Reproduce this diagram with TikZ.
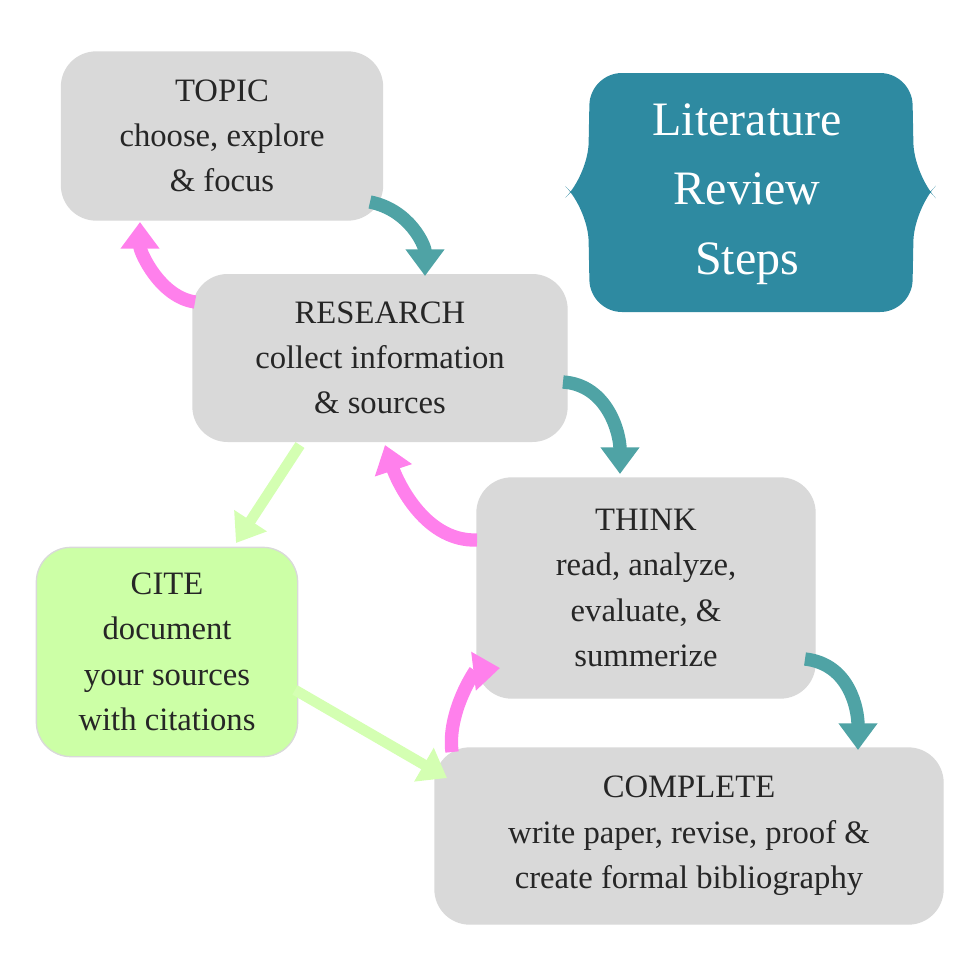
\documentclass[tikz,border=0pt]{standalone}
\usepackage{fontspec}
\setmainfont{Liberation Serif}
\usetikzlibrary{arrows.meta}
\begin{document}
\begin{tikzpicture}[x=0.75pt,y=-0.75pt,
  box/.style={draw=gray!30,line width=1pt,fill=boxgray,rounded corners=26pt,align=center,text=black!85,font=\fontsize{24.5}{34}\selectfont,inner sep=0pt},
  teal/.style={draw=tealc,line width=10pt,-{Triangle[length=20pt,width=28pt]}},
  pink/.style={draw=pinkc,line width=10pt,-{Triangle[length=20pt,width=28pt]}},
  grn/.style={draw=greenc,line width=8pt,-{Triangle[length=20pt,width=28pt]}}]
\definecolor{boxgray}{HTML}{D9D9D9}
\definecolor{tealc}{HTML}{4FA3A5}
\definecolor{pinkc}{HTML}{FF80EC}
\definecolor{greenc}{HTML}{D4FFB2}
\definecolor{titlec}{HTML}{2E8AA1}
\definecolor{citec}{HTML}{CCFFA6}
\useasboundingbox (0,0) rectangle (960,960);
\node[box,minimum width=240.75pt,minimum height=126pt] (topic) at (222,136) {TOPIC\\choose, explore\\\& focus};
\node[box,minimum width=280.5pt,minimum height=125pt] (research) at (380,358) {RESEARCH\\collect information\\\& sources};
\node[box,minimum width=253.5pt,minimum height=165pt] (think) at (646,588) {THINK\\read, analyze,\\evaluate, \&\\summerize};
\node[box,fill=citec,minimum width=196pt,minimum height=157pt] (cite) at (167,652) {CITE\\document\\your sources\\with citations};
\node[box,minimum width=381pt,minimum height=132pt] (complete) at (689,836) {COMPLETE\\write paper, revise, proof \&\\create formal bibliography};
% title
\fill[titlec,rounded corners=24pt] (590,73) -- (912,73) -- (914,175) [sharp corners]-- (930,192) [rounded corners=24pt]-- (914,209) -- (912,312) -- (590,312) -- (588,209) [sharp corners]-- (571,192) [rounded corners=24pt]-- (588,175) -- cycle;
\node[text=white,align=center,font=\fontsize{36}{52}\selectfont] (title) at (747,194) {Literature\\Review\\Steps};
% connector ends
\coordinate (a1) at (370,202); \coordinate (a2) at (425,276);
\coordinate (b1) at (563,382); \coordinate (b2) at (620,474);
\coordinate (c1) at (805,659); \coordinate (c2) at (858,750);
\coordinate (p1) at (195,302); \coordinate (p2) at (140,222);
\coordinate (q1) at (477,540); \coordinate (q2) at (385,445);
\coordinate (r1) at (452,752); \coordinate (r2) at (500,668);
\coordinate (g1) at (300,445); \coordinate (g2) at (236,543);
\coordinate (h1) at (295,690); \coordinate (h2) at (447,778);
% arrows
\draw[teal] (a1) .. controls +(40,8) and +(0,-30) .. (a2);
\draw[teal] (b1) .. controls +(45,3) and +(0,-40) .. (b2);
\draw[teal] (c1) .. controls +(45,5) and +(0,-40) .. (c2);
\draw[pink] (p1) .. controls +(-35,-5) and +(0,30) .. (p2);
\draw[pink] (q1) .. controls +(-55,2) and +(10,30) .. (q2);
\draw[pink] (r1) .. controls +(-5,-40) and +(-25,3) .. (r2);
\draw[grn] (g1) -- (g2);
\draw[grn] (h1) -- (h2);
\end{tikzpicture}
\end{document}
